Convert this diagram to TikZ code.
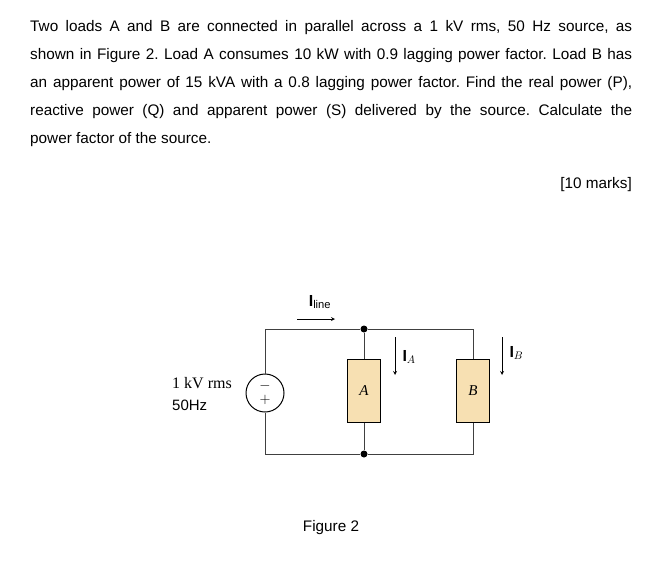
\documentclass[tikz,border=0pt]{standalone}
\usepackage{fontspec}
\setmainfont{Liberation Sans}
\newfontfamily\serifrm{Liberation Serif}
\begin{document}
\frenchspacing
\begin{tikzpicture}[x=1pt,y=-1pt,
  wire/.style={line width=1pt,black!75},
  load/.style={draw,line width=1.4pt,fill={rgb,255:red,247;green,224;blue,178},minimum width=33pt,minimum height=63pt,inner sep=0pt,font=\serifrm\itshape\fontsize{15}{18}\selectfont},
  dot/.style={circle,fill=black,inner sep=0pt,minimum size=7pt},
  cur/.style={->,line width=0.8pt,>=stealth},
  lbl/.style={font=\serifrm\fontsize{16}{19}\selectfont}]
\useasboundingbox (0,0) rectangle (671,576);
\node[anchor=north west,text width=602pt,align=justify,inner sep=0pt,font=\fontsize{15.3}{28}\selectfont] (txt) at (30,20)
{Two loads A and B are connected in parallel across a 1 kV rms, 50 Hz source, as\linebreak shown in Figure 2. Load A consumes 10 kW with 0.9 lagging power factor. Load B has\linebreak an apparent power of 15 kVA with a 0.8 lagging power factor. Find the real power (P),\linebreak reactive power (Q) and apparent power (S) delivered by the source. Calculate the\linebreak power factor of the source.};
\node[anchor=east,inner sep=0pt,font=\fontsize{15.3}{17}\selectfont] (marks) at (632,185) {[10 marks]};
\node[inner sep=0pt,font=\fontsize{15.3}{17}\selectfont] (fig) at (331,528) {Figure 2};
% circuit
\coordinate (tl) at (265,329); \coordinate (bl) at (265,454);
\coordinate (tr) at (473,329); \coordinate (br) at (473,454);
\node[dot] (ta) at (364,329) {};
\node[dot] (ba) at (364,454) {};
\node[circle,draw,line width=1pt,minimum size=38pt,inner sep=0pt] (src) at (265,393) {};
\node[font=\fontsize{14}{16}\selectfont] (plus) at ([yshift=-7pt]src.center) {$+$};
\node[font=\fontsize{14}{16}\selectfont] (minus) at ([yshift=7pt]src.center) {$-$};
\node[load] (A) at (364,391) {A};
\node[load] (B) at (473,391) {B};
\draw[wire] (src.north) -- (tl) -- (ta) -- (tr) -- (B.north);
\draw[wire] (src.south) -- (bl) -- (ba) -- (br) -- (B.south);
\draw[wire] (ta) -- (A.north); \draw[wire] (ba) -- (A.south);
\coordinate (l1) at (297,319); \coordinate (l2) at (335,319);
\draw[cur] (l1) -- (l2);
\node[lbl] (il) at (320,302) {$\mathbf{I}_{\mathrm{line}}$};
\coordinate (a1) at (395,337); \coordinate (a2) at (395,375);
\draw[cur] (a1) -- (a2);
\node[lbl,anchor=west] (ia) at (399,357) {$\mathbf{I}_{A}$};
\coordinate (b1) at (502,337); \coordinate (b2) at (502,375);
\draw[cur] (b1) -- (b2);
\node[lbl,anchor=west] (ib) at (506,353) {$\mathbf{I}_{B}$};
\node[lbl,anchor=west,inner sep=0pt] (v1) at (172,383) {1 kV rms};
\node[anchor=west,inner sep=0pt,font=\fontsize{15}{17}\selectfont] (v2) at (172,405) {50Hz};
\end{tikzpicture}
\end{document}
